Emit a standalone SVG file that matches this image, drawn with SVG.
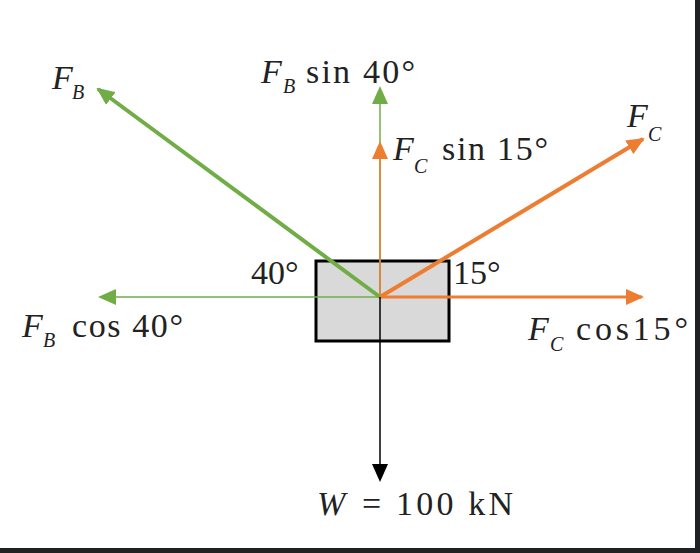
<svg xmlns="http://www.w3.org/2000/svg" width="700" height="553" viewBox="0 0 700 553">
<style>
text{font-family:'Liberation Serif','DejaVu Serif',serif;font-size:34px;fill:#222}
.i{font-style:italic}
.s{font-size:20px;font-style:italic}
</style>
<defs>
<marker id="gb" markerWidth="18" markerHeight="16" refX="16" refY="8" orient="auto" markerUnits="userSpaceOnUse" viewBox="0 0 18 16"><path d="M0,0L18,8L0,16z" fill="#70ad47"/></marker>
<marker id="o" markerWidth="18" markerHeight="16" refX="16" refY="8" orient="auto" markerUnits="userSpaceOnUse" viewBox="0 0 18 16"><path d="M0,0L18,8L0,16z" fill="#ed7d31"/></marker>
<marker id="k" markerWidth="18" markerHeight="16" refX="16" refY="8" orient="auto" markerUnits="userSpaceOnUse" viewBox="0 0 18 16"><path d="M0,0L18,8L0,16z" fill="#000"/></marker>
</defs>
<rect x="0" y="0" width="700" height="553" fill="#fff"/>
<path d="M695,0V548H0V553H700V0z" fill="#202124"/>
<g id="block"><rect x="316" y="261" width="133" height="80" fill="#d9d9d9" stroke="#000" stroke-width="3"/></g>
<g id="connectors" fill="none">
<line x1="380" y1="297" x2="100" y2="297" stroke="#70ad47" stroke-width="1.5" marker-end="url(#gb)"/>
<line x1="380" y1="297" x2="380" y2="88" stroke="#70ad47" stroke-width="1.5" marker-end="url(#gb)"/>
<line x1="380" y1="297" x2="380" y2="143" stroke="#ed7d31" stroke-width="1.5" marker-end="url(#o)"/>
<line x1="380" y1="297" x2="98" y2="89" stroke="#70ad47" stroke-width="4" marker-end="url(#gb)"/>
<line x1="380" y1="297" x2="643" y2="139" stroke="#ed7d31" stroke-width="4" marker-end="url(#o)"/>
<line x1="380" y1="297" x2="642" y2="297" stroke="#ed7d31" stroke-width="3" marker-end="url(#o)"/>
<line x1="380" y1="297" x2="380" y2="480" stroke="#000" stroke-width="1.5" marker-end="url(#k)"/>
</g>
<g id="labels">
<text x="52" y="89" class="i">F</text><text x="72" y="99" class="s">B</text>
<text x="261" y="83" class="i">F</text><text x="283" y="93" class="s">B</text><text x="306" y="83" textLength="109">sin 40°</text>
<text x="393" y="160" class="i">F</text><text x="414" y="173" class="s">C</text><text x="442" y="160" textLength="106">sin 15°</text>
<text x="627" y="127" class="i">F</text><text x="648" y="141" class="s">C</text>
<text x="251" y="284">40°</text>
<text x="453" y="284">15°</text>
<text x="22" y="337" class="i">F</text><text x="43" y="347" class="s">B</text><text x="72" y="337" textLength="111">cos 40°</text>
<text x="528" y="340" class="i">F</text><text x="550" y="351" class="s">C</text><text x="576" y="340" textLength="112">cos15°</text>
<text x="317" y="515" class="i">W</text><text x="362" y="515" textLength="151">= 100 kN</text>
</g>
</svg>
